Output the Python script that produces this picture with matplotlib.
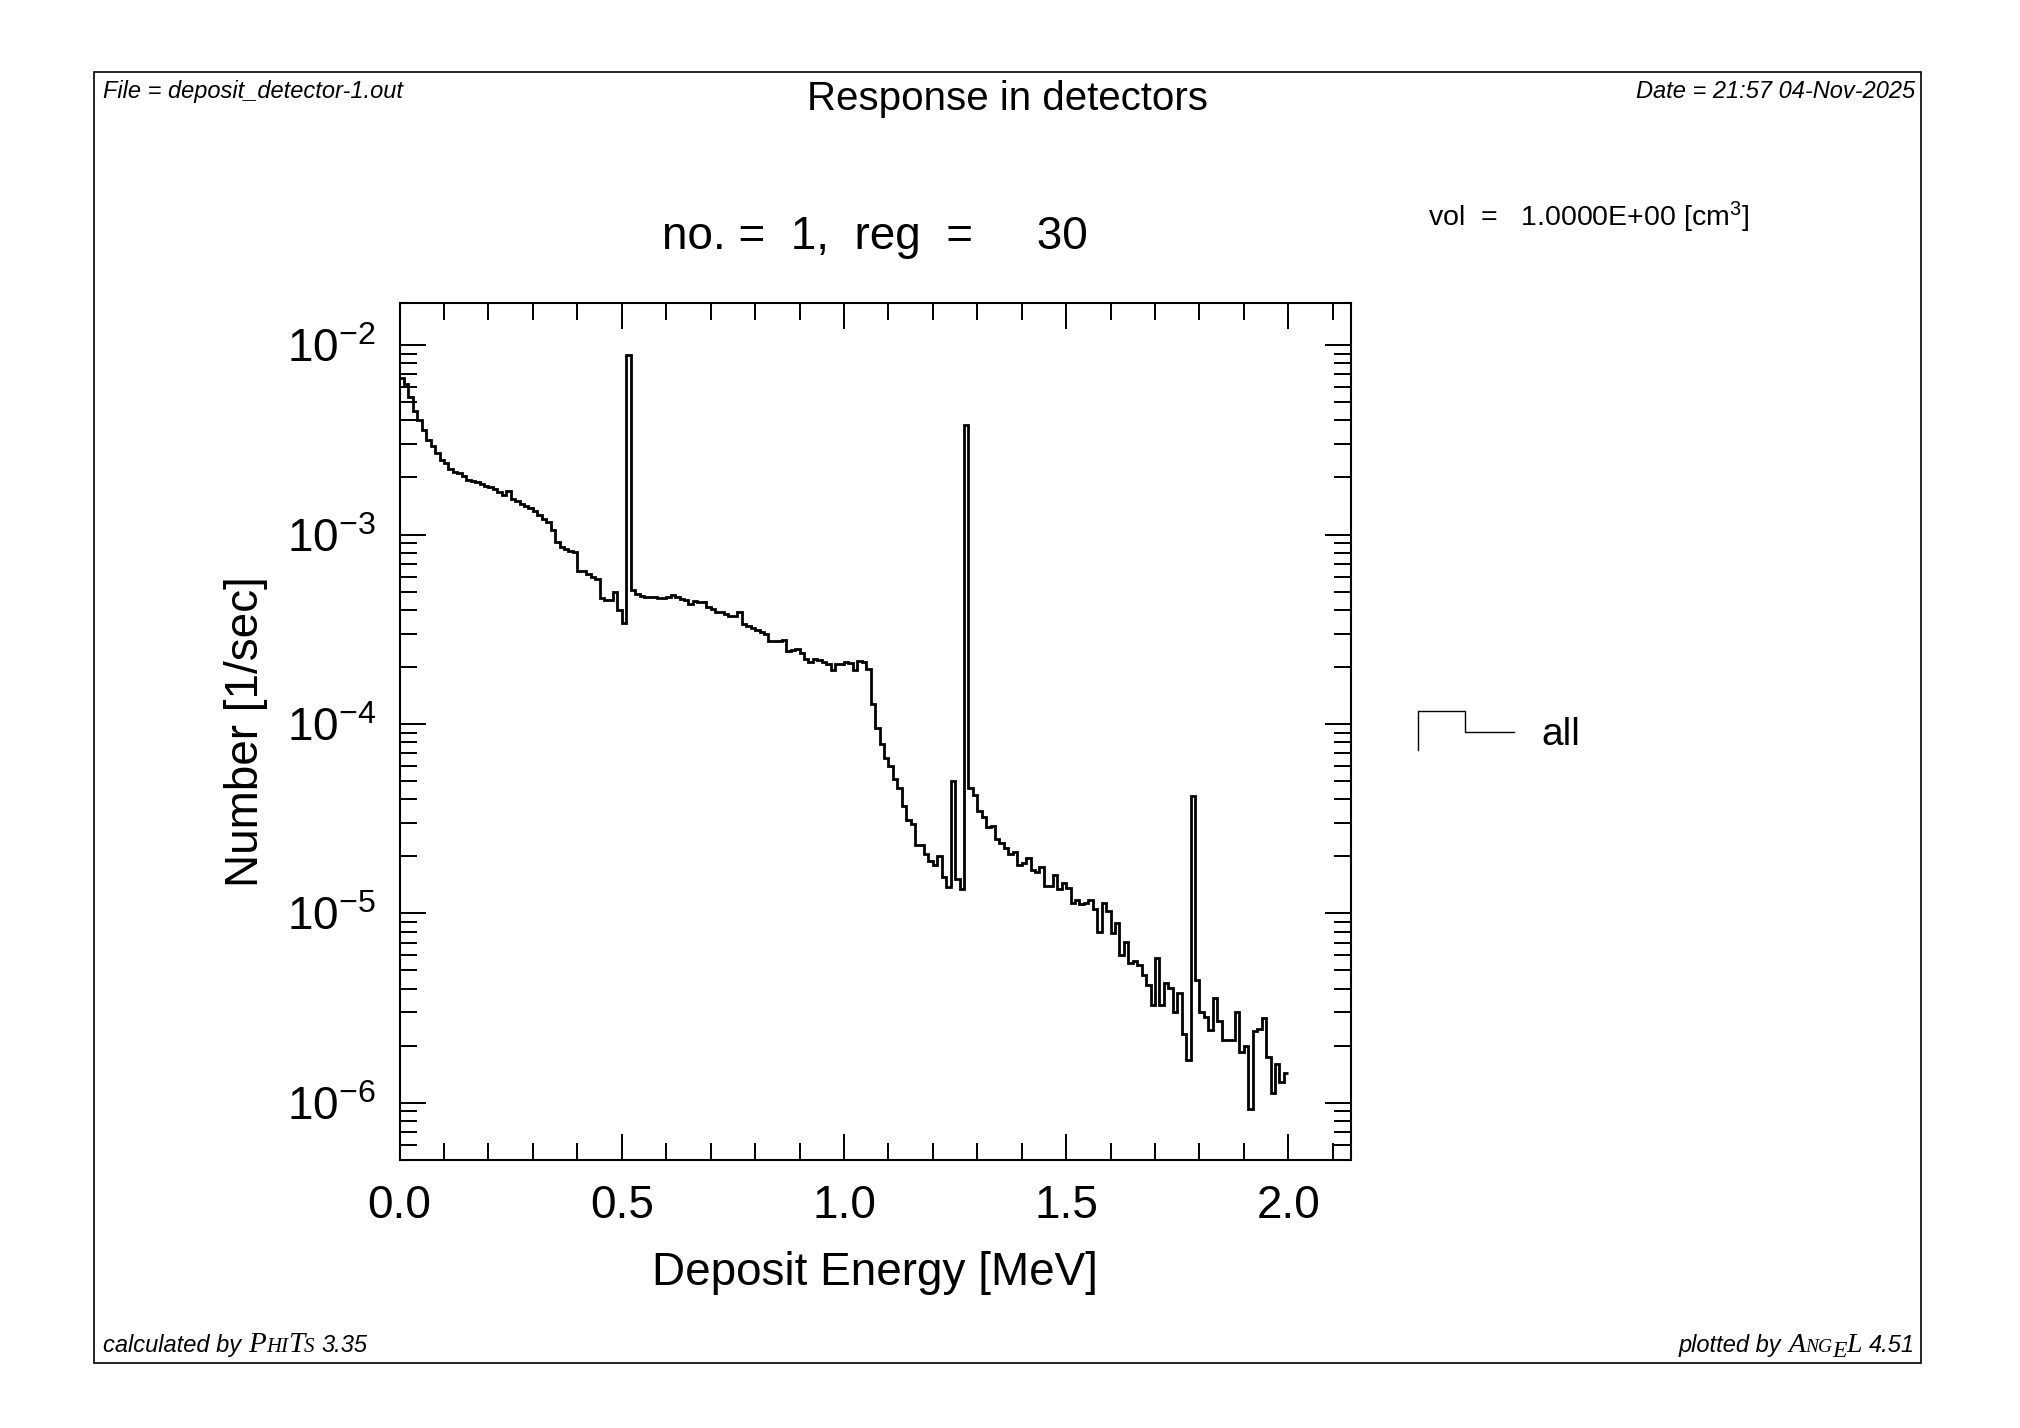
import numpy as np
import matplotlib
matplotlib.use("Agg")
import matplotlib.pyplot as plt
from matplotlib.lines import Line2D
from matplotlib.patches import Rectangle
from matplotlib.ticker import MultipleLocator, LogLocator, NullFormatter, FormatStrFormatter

plt.rcParams['font.family'] = ['Liberation Sans', 'DejaVu Sans']
plt.rcParams['mathtext.fontset'] = 'custom'
plt.rcParams['mathtext.rm'] = 'Liberation Sans'
plt.rcParams['mathtext.it'] = 'Liberation Sans:italic'
plt.rcParams['mathtext.default'] = 'regular'

# energy bins [MeV]
E_MIN, E_MAX, N_BIN = 0.0, 2.0, 200

# number [1/sec] per 0.01 MeV bin
rate_000_050 = [6.7e-3, 6.2e-3, 5.3e-3, 4.5e-3, 4.0e-3, 3.55e-3, 3.15e-3, 2.95e-3, 2.7e-3, 2.48e-3,
                2.38e-3, 2.23e-3, 2.14e-3, 2.1e-3, 2.03e-3, 1.95e-3, 1.92e-3, 1.89e-3, 1.85e-3, 1.8e-3,
                1.78e-3, 1.73e-3, 1.67e-3, 1.61e-3, 1.70e-3, 1.54e-3, 1.5e-3, 1.45e-3, 1.42e-3, 1.38e-3,
                1.33e-3, 1.27e-3, 1.21e-3, 1.17e-3, 1.05e-3, 9.1e-4, 8.6e-4, 8.4e-4, 8.2e-4, 8.1e-4,
                6.45e-4, 6.4e-4, 6.2e-4, 6.0e-4, 5.8e-4, 4.6e-4, 4.5e-4, 4.5e-4, 5.0e-4, 4.0e-4]
rate_050_100 = [3.43e-4, 8.9e-3, 5.1e-4, 4.85e-4, 4.75e-4, 4.66e-4, 4.66e-4, 4.66e-4, 4.6e-4, 4.62e-4,
                4.7e-4, 4.8e-4, 4.66e-4, 4.57e-4, 4.5e-4, 4.3e-4, 4.44e-4, 4.4e-4, 4.4e-4, 4.12e-4,
                4.05e-4, 3.88e-4, 3.88e-4, 3.8e-4, 3.73e-4, 3.7e-4, 3.88e-4, 3.37e-4, 3.3e-4, 3.2e-4,
                3.12e-4, 3.05e-4, 3.0e-4, 2.75e-4, 2.73e-4, 2.75e-4, 2.78e-4, 2.43e-4, 2.45e-4, 2.48e-4,
                2.38e-4, 2.2e-4, 2.13e-4, 2.2e-4, 2.17e-4, 2.13e-4, 2.07e-4, 1.93e-4, 2.07e-4, 2.08e-4]
rate_100_150 = [2.12e-4, 2.1e-4, 1.93e-4, 2.15e-4, 2.12e-4, 1.95e-4, 1.27e-4, 9.5e-5, 7.8e-5, 6.6e-5,
                6.0e-5, 5.1e-5, 4.6e-5, 3.7e-5, 3.1e-5, 2.95e-5, 2.3e-5, 2.29e-5, 2.07e-5, 1.89e-5,
                1.81e-5, 2.01e-5, 1.55e-5, 1.37e-5, 5.0e-5, 1.52e-5, 1.35e-5, 3.8e-3, 4.57e-5, 4.19e-5,
                3.48e-5, 3.24e-5, 2.85e-5, 2.9e-5, 2.46e-5, 2.34e-5, 2.22e-5, 2.05e-5, 2.1e-5, 1.8e-5,
                1.85e-5, 1.97e-5, 1.7e-5, 1.65e-5, 1.75e-5, 1.4e-5, 1.4e-5, 1.6e-5, 1.34e-5, 1.45e-5]
rate_150_200 = [1.36e-5, 1.13e-5, 1.17e-5, 1.12e-5, 1.14e-5, 1.18e-5, 1.05e-5, 8.0e-6, 1.14e-5, 1.03e-5,
                7.9e-6, 8.9e-6, 6.0e-6, 7.1e-6, 5.5e-6, 5.6e-6, 5.35e-6, 4.74e-6, 4.2e-6, 3.29e-6,
                5.8e-6, 3.29e-6, 4.3e-6, 4.05e-6, 3.03e-6, 3.8e-6, 2.3e-6, 1.68e-6, 4.16e-5, 4.46e-6,
                3.0e-6, 2.85e-6, 2.42e-6, 3.56e-6, 2.7e-6, 2.15e-6, 2.15e-6, 2.15e-6, 3.03e-6, 1.86e-6,
                2.0e-6, 9.3e-7, 2.38e-6, 2.45e-6, 2.79e-6, 1.75e-6, 1.12e-6, 1.6e-6, 1.29e-6, 1.43e-6]

rate = rate_000_050 + rate_050_100 + rate_100_150 + rate_150_200
edges = np.linspace(E_MIN, E_MAX, N_BIN + 1)

W, H = 2020, 1428
fig = plt.figure(figsize=(W / 100, H / 100), dpi=100)

# outer frame
fig.add_artist(Rectangle((0.0466, 0.0452), 0.9046, 0.9042, transform=fig.transFigure,
                         fill=False, ec='black', lw=1.2))

ax = fig.add_axes([0.1978, 0.1878, 0.4708, 0.6001])
ax.stairs(rate, edges, baseline=None, color='black', lw=2.0)
ax.set_yscale('log')
ax.set_xlim(0, 2.14)
ax.set_ylim(5.0e-7, 1.67e-2)

ax.xaxis.set_major_locator(MultipleLocator(0.5))
ax.xaxis.set_minor_locator(MultipleLocator(0.1))
ax.xaxis.set_major_formatter(FormatStrFormatter('%.1f'))
ax.yaxis.set_major_locator(LogLocator(base=10, numticks=20))
ax.yaxis.set_minor_locator(LogLocator(base=10, subs=np.arange(2, 10), numticks=20))
ax.yaxis.set_minor_formatter(NullFormatter())

ax.tick_params(which='both', direction='in', top=True, right=True, width=1.4, colors='black')
ax.tick_params(which='major', length=19, labelsize=33)
ax.tick_params(which='minor', length=12.5)
ax.tick_params(axis='x', pad=17.5)
ax.tick_params(axis='y', pad=17)
for sp in ax.spines.values():
    sp.set_linewidth(1.5)

ax.set_xlabel('Deposit Energy [MeV]', fontsize=33)
ax.xaxis.label.set_va('baseline')
ax.xaxis.set_label_coords(0.5, -0.146)
ax.set_ylabel('Number [1/sec]', fontsize=33)
ax.yaxis.label.set_va('center')
ax.yaxis.set_label_coords(-0.1614, 0.5)

# header texts
fig.text(103 / W, 1 - 98 / H, 'File = deposit_detector-1.out', fontsize=17, style='italic',
         ha='left', va='baseline')
fig.text(1915 / W, 1 - 98 / H, 'Date = 21:57 04-Nov-2025', fontsize=17, style='italic',
         ha='right', va='baseline')
fig.text(0.499, 1 - 109.5 / H, 'Response in detectors', fontsize=29, ha='center', va='baseline')
fig.text(0.1978 + 0.4708 / 2, 1 - 248.7 / H, 'no. =  1,  reg  =     30', fontsize=33,
         ha='center', va='baseline')
fig.text(1428 / W, 1 - 226.8 / H, 'vol  =   1.0000E+00 [cm$^3$]', fontsize=20.5,
         ha='left', va='baseline')

# legend
fig.add_artist(Line2D([0.7018, 0.7018, 0.7253, 0.7253, 0.7496],
                      [0.4748, 0.5018, 0.5018, 0.4874, 0.4874],
                      transform=fig.transFigure, color='black', lw=1.0))
fig.text(0.7629, 0.4850, 'all', fontsize=28, ha='left', va='center')


def pieces_text(x_px, y_px, pieces, align='left'):
    r = fig.canvas.get_renderer()
    arts = []
    for txt, size, fam, dy, gap in pieces:
        t = fig.text(0, 0, txt, fontsize=size, family=fam, style='italic', ha='left', va='baseline')
        arts.append((t, dy, gap, t.get_window_extent(r).width))
    total = sum(a[3] + a[2] for a in arts)
    x = x_px if align == 'left' else x_px - total
    for t, dy, gap, w in arts:
        x += gap
        t.set_position((x / W, 1 - (y_px + dy) / H))
        x += w


sans = ['Liberation Sans', 'DejaVu Sans']
serif = ['Liberation Serif', 'DejaVu Serif']
pieces_text(103, 1352, [('calculated by', 17, sans, 0, 0), ('P', 21, serif, 0, 7),
                        ('HI', 15, serif, 0, 0), ('T', 21, serif, 0, 0), ('S', 15, serif, 0, 0),
                        ('3.35', 17, sans, 0, 7)])
pieces_text(1915, 1352, [('plotted by', 17, sans, 0, 0), ('A', 20, serif, 0, 7),
                         ('NG', 14, serif, 0, 0), ('E', 17, serif, 5, 0), ('L', 20, serif, 0, 0),
                         ('4.51', 17, sans, 0, 7)], align='right')

fig.savefig('out.png', dpi=100)
